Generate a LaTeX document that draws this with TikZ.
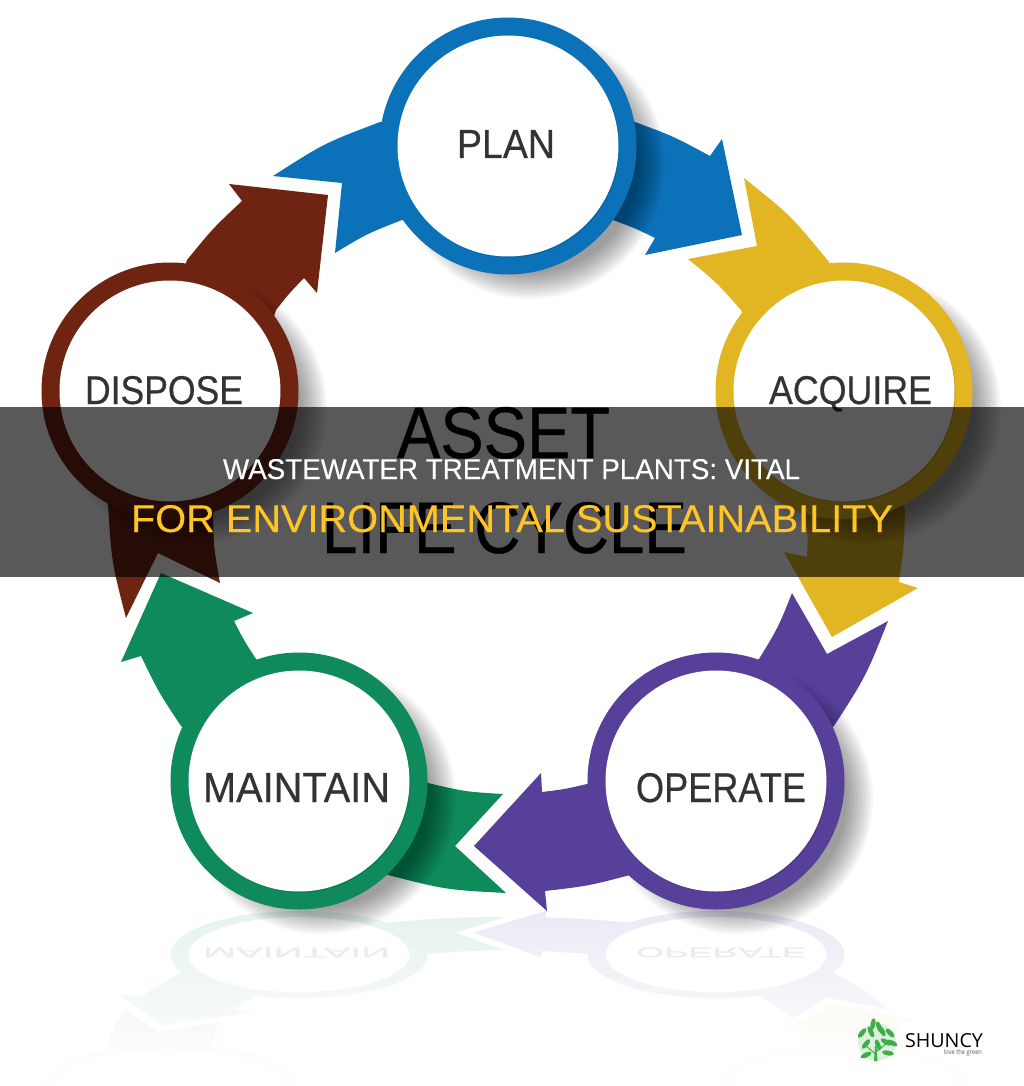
\documentclass[tikz,border=0pt]{standalone}
\usepackage{graphicx}
\usepackage{fontspec}
\setmainfont{Liberation Sans}
\newfontfamily\medfont{Liberation Sans}[FakeBold=0.5]
\newfontfamily\titlefont{Liberation Sans}[FakeBold=0.25]
\newfontfamily\logofont{Open Sans}
\definecolor{cBlue}{HTML}{0B72B9}
\definecolor{cYellow}{HTML}{E2B522}
\definecolor{cPurple}{HTML}{56409A}
\definecolor{cGreen}{HTML}{0E8A5B}
\definecolor{cBrown}{HTML}{6F2412}
\definecolor{cText}{HTML}{333333}
\definecolor{cGold}{HTML}{FFC425}
\definecolor{cLeaf}{HTML}{3FAE49}
\newif\ifwithshadow
\newcommand{\fitlab}[3]{\resizebox{#1pt}{#2pt}{\medfont\fontsize{40}{40}\selectfont #3}}
\newcommand{\fittitle}[3]{\resizebox{#1pt}{#2pt}{\titlefont\fontsize{40}{40}\selectfont #3}}
\tikzset{
  lab/.style={inner sep=0pt,outer sep=0pt,anchor=base,text=cText},
  ringdisc/.style={circle,inner sep=0pt,outer sep=0pt,minimum size=257pt,fill=#1},
  whitedisc/.style={circle,inner sep=0pt,outer sep=0pt,minimum size=221pt,fill=white},
  title/.style={inner sep=0pt,outer sep=0pt,anchor=base},
  leaf/.style={fill=cLeaf}
}
\newcommand{\hub}[4]{%
  \ifwithshadow
    \foreach \k in {1,...,14}{\fill[black,opacity=.03] (#2+22,#3+18) circle [radius=107pt+2pt*\k];}
  \fi
  \node[ringdisc=#4] (#1ring) at (#2,#3) {};
  \ifwithshadow
    \fill[black,opacity=.12] (#2+1,#3+1.2) circle [radius=110.5pt];
  \fi
  \node[whitedisc] (#1disc) at (#2,#3) {};
}
\newcommand{\swooshes}{%
  % blue
  \fill[cBlue] (273,176) .. controls (323.6,143.5) .. (380,122) -- (635,122)
    .. controls (673.7,136.4) .. (710,156) -- (722,139) -- (742,235) -- (645,255) -- (655,238)
    .. controls (634.5,228) .. (613,220) -- (402,220) .. controls (367,233.7) .. (335,253) -- (342,183) -- cycle;
  % yellow
  \fill[cYellow] (744,178) .. controls (791,215.7) .. (829,262) -- (905,510)
    .. controls (904,546) .. (899,582) -- (918,588) -- (832,637) -- (784,552) -- (807,557)
    .. controls (808,533) .. (803,510) -- (741,310) .. controls (716.7,282.4) .. (688,259) -- (757,246) -- cycle;
  % purple
  \fill[cPurple] (792,593) -- (827,654) -- (888,621) .. controls (866,676.2) .. (834,726) -- (630,875)
    .. controls (588,886) .. (545,891) -- (547,911) -- (474,846) -- (541,773) -- (542,792)
    .. controls (564.7,789.2) .. (587,784) -- (759,659) .. controls (778.3,627.4) .. cycle;
  % green
  \fill[cGreen] (503,794) -- (455,846) -- (506,893) .. controls (446,889.8) .. (388,875) -- (181,726)
    .. controls (158.7,692.4) .. (141,656) -- (121,662) -- (161,573) -- (253,613) -- (234,621)
    .. controls (244,640.5) .. (256,659) -- (428,783) .. controls (465,791.7) .. cycle;
  % brown
  \fill[cBrown] (126,618) -- (158,553) -- (220,583) .. controls (213.6,547) .. (213,510) -- (276,310)
    .. controls (289.2,293.3) .. (304,278) -- (317,293) -- (328,195) -- (229,184) -- (242,201)
    .. controls (212.5,228.7) .. (187,260) -- (108,505) .. controls (111.7,562.5) .. cycle;
}
\newcommand{\wheel}{%
  \swooshes
  \hub{plan}{508}{146}{cBlue}
  \hub{acquire}{844}{391}{cYellow}
  \hub{operate}{716}{781}{cPurple}
  \hub{maintain}{299}{781}{cGreen}
  \hub{dispose}{170}{391}{cBrown}
  \node[lab] (operate) at (721,802) {\fitlab{170}{29}{OPERATE}};
  \node[lab] (maintain) at (296.5,802) {\fitlab{187}{29}{MAINTAIN}};
}
\begin{document}
\begin{tikzpicture}[x=1pt,y=-1pt]
\useasboundingbox (0,0) rectangle (1024,1086);
\fill[white] (0,0) rectangle (1024,1086);
% faint mirrored copy below the wheel
\begin{scope}[shift={(0,1220.2)},yscale=-0.34,transform shape]
  \definecolor{cBlue}{HTML}{E2EEF7}
  \definecolor{cYellow}{HTML}{FBF6E4}
  \definecolor{cPurple}{HTML}{ECEAF5}
  \definecolor{cGreen}{HTML}{E6F3EE}
  \definecolor{cBrown}{HTML}{F3E9E7}
  \definecolor{cText}{HTML}{E6E6E6}
  \withshadowfalse
  \wheel
\end{scope}
\foreach \k in {0,...,41}{
  \pgfmathsetmacro{\fadeop}{min(0.96,0.04+\k*0.026)}
  \fill[white,opacity=\fadeop] (0,920+4*\k) rectangle (1024,924+4*\k);
}
% main wheel
\withshadowtrue
\wheel
\node[lab] (plan) at (506,158) {\fitlab{98}{28}{PLAN}};
\node[lab] (acquire) at (850.5,404) {\fitlab{163}{28}{ACQUIRE}};
\node[lab] (dispose) at (164,404) {\fitlab{158}{28}{DISPOSE}};
\node[lab,text=black] (asset) at (503.5,458) {\fitlab{213}{51}{ASSET}};
\node[lab,text=black] (lifecycle) at (504.5,553) {\fitlab{365}{51}{LIFE CYCLE}};
% dark band and title
\fill[black,opacity=.65] (0,407) rectangle (1024,577);
\node[title,text=white] (line1) at (511.5,479) {\fittitle{577}{20}{WASTEWATER TREATMENT PLANTS: VITAL}};
\node[title,text=cGold] (line2) at (512,532) {\fittitle{762}{27}{FOR ENVIRONMENTAL SUSTAINABILITY}};
% logo
\fill[cLeaf!18] (877,1042) circle [radius=19pt];
\foreach \px/\py/\ang in {862/1033/50,871/1032/-65,879/1027/-70,882/1031/-60,890/1033/-45,892/1043/-25,886/1042/-30,878/1045/-70,866/1044/50,866/1055/25,888/1053/-10,873/1024/80}{
  \fill[leaf,rotate around={\ang:(\px,\py)}] (\px,\py) ellipse [x radius=6pt,y radius=2.4pt];
}
\fill[cLeaf] (874,1061) -- (875,1046) -- (876.5,1046) -- (877.5,1061) -- cycle;
\draw[cLeaf,line width=1pt] (875.5,1054) -- (866,1046) (875.5,1052) -- (886,1044);
\node[title,text=black] (shuncy) at (944,1047) {\resizebox{78pt}{14pt}{\logofont\fontsize{40}{40}\selectfont SHUNCY}};
\node[title,text=black!65] (slogan) at (963,1054.5) {\resizebox{38pt}{5pt}{\logofont\fontsize{40}{40}\selectfont love the green}};
\end{tikzpicture}
\end{document}
